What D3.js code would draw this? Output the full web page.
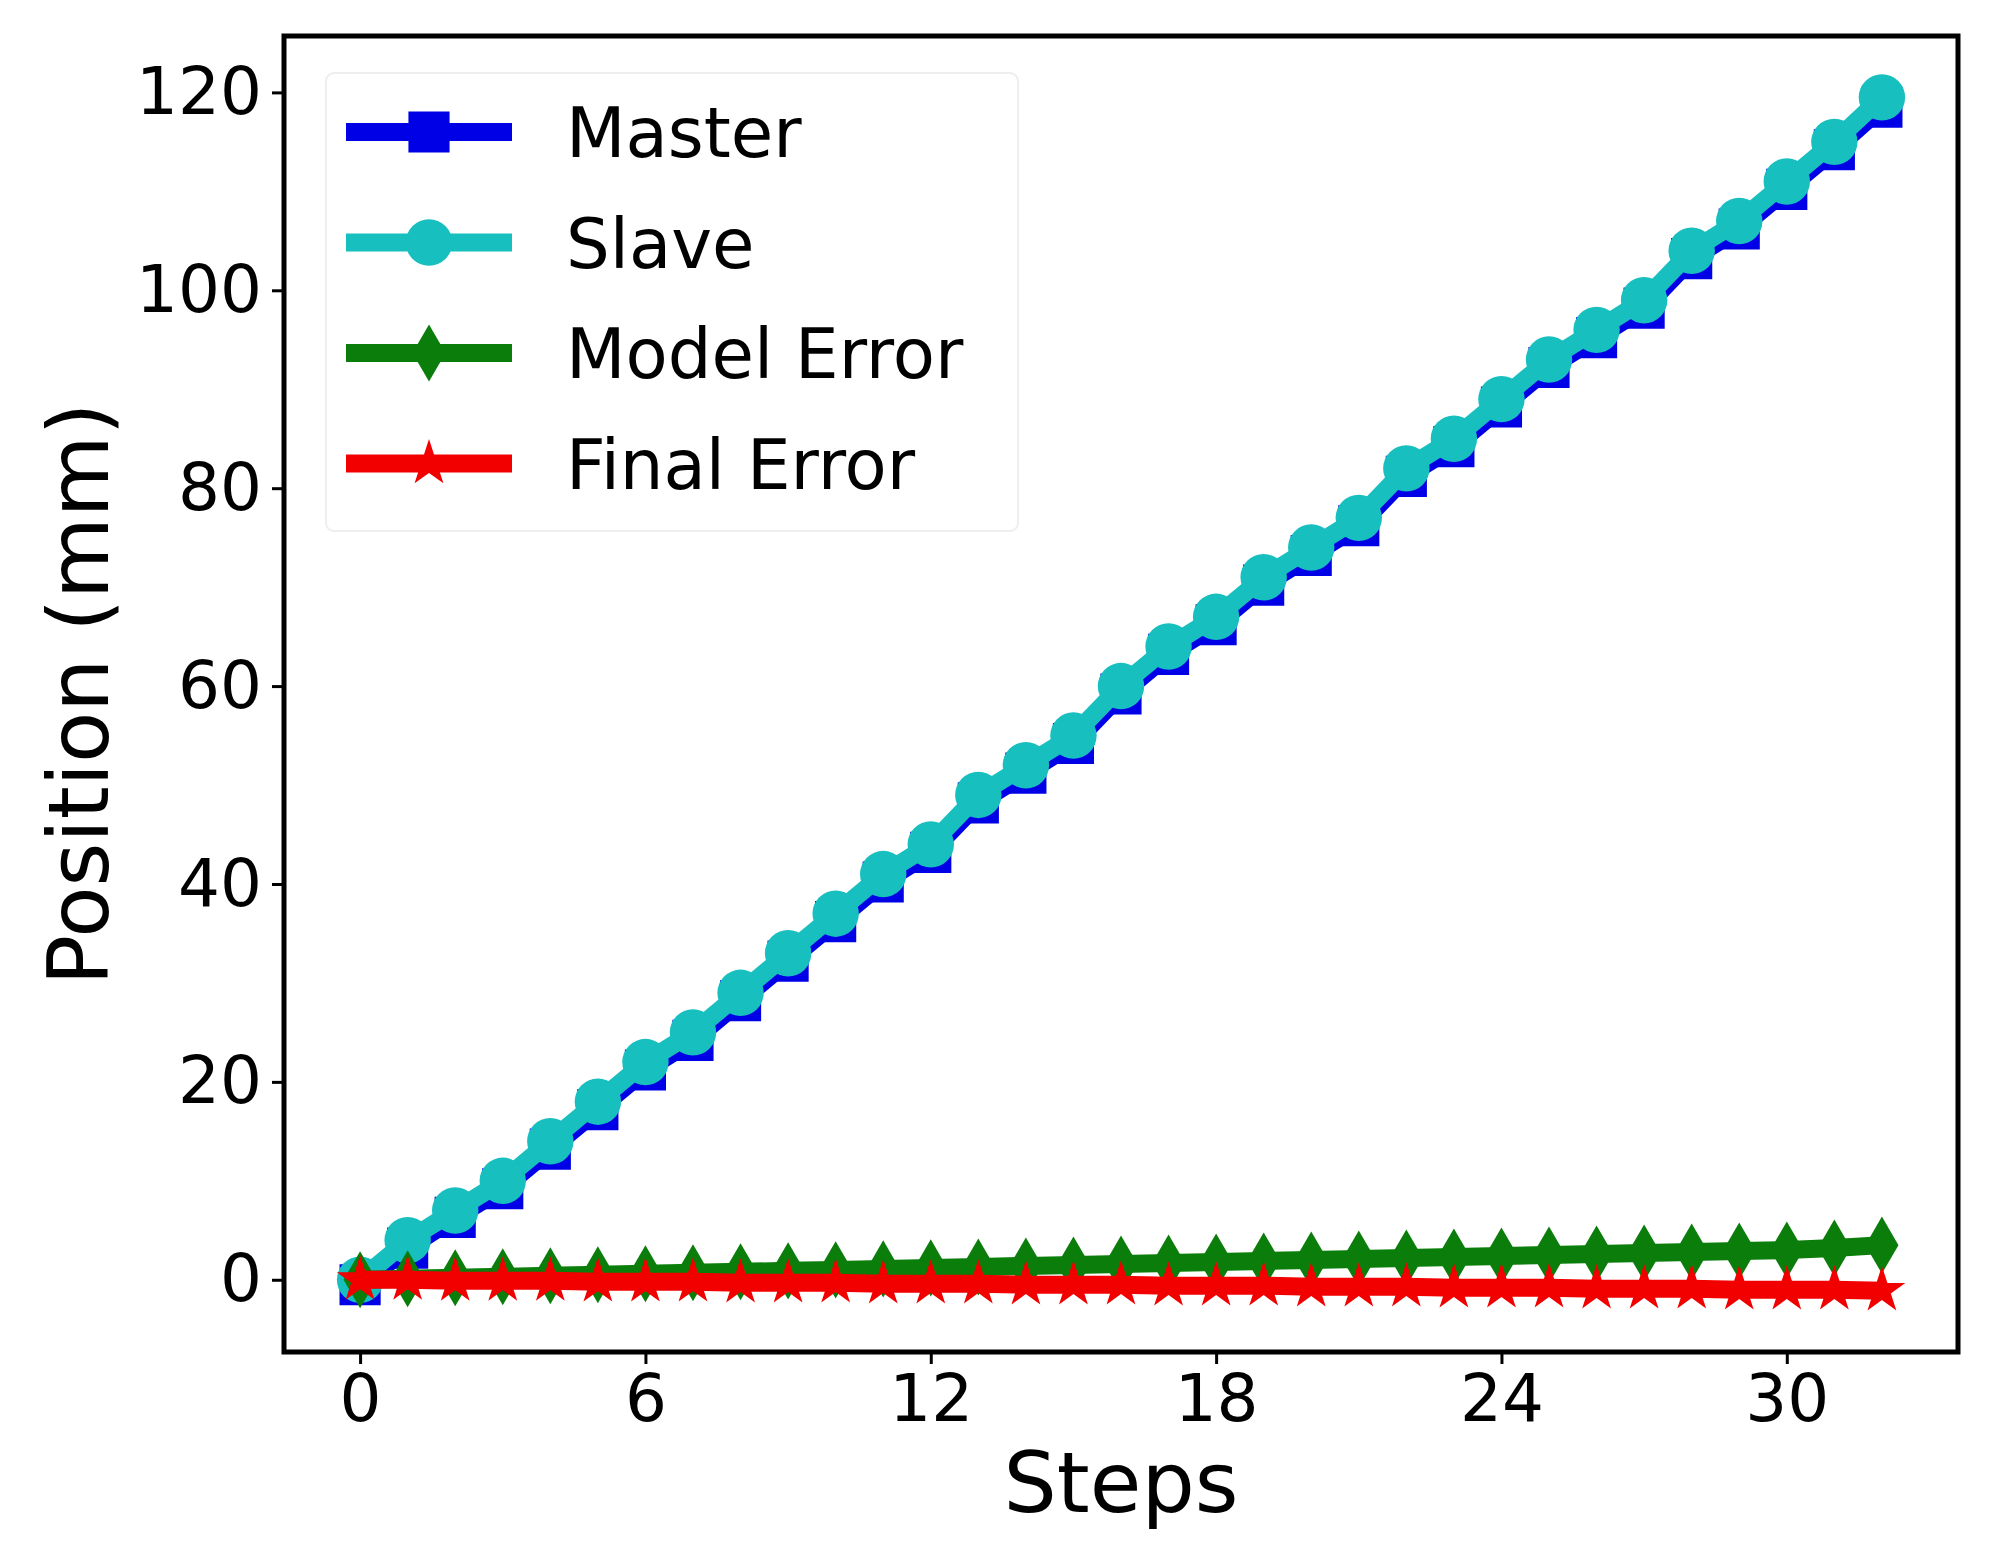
<!DOCTYPE html>
<html><head><meta charset="utf-8">
<script src="https://cdn.jsdelivr.net/npm/d3@7"></script>
<style>body{margin:0;background:#fff}svg{font-family:"DejaVu Sans",sans-serif}</style>
</head><body><svg id="canvas" width="2009" height="1550"></svg>
<script>
const steps = d3.range(0, 33)
const slave = [0,4,7,10,14,18,22,25,29,33,37,41,44,49,52,55,60,64,67,71,74,77,82,85,89,93,96,99,104,107,111,115,119.5]
const master = [-0.5,3.2,6.3,9.2,13.2,17.2,21.2,24.2,28.2,32.2,36.2,40.2,43.2,48.2,51.2,54.2,59.2,63.2,66.2,70.2,73.2,76.2,81.2,84.2,88.2,92.2,95.2,98.2,103.2,106.2,110.2,114.2,118.5]
const modelErr = [0,0.1,0.2,0.3,0.4,0.5,0.6,0.7,0.8,0.9,1.0,1.1,1.2,1.3,1.4,1.5,1.6,1.7,1.8,1.9,2.0,2.1,2.2,2.3,2.4,2.5,2.6,2.7,2.8,2.9,3.0,3.2,3.5]
const finalErr = [0,0,-0.1,-0.1,-0.1,-0.2,-0.2,-0.2,-0.3,-0.3,-0.3,-0.4,-0.4,-0.4,-0.5,-0.5,-0.5,-0.6,-0.6,-0.6,-0.7,-0.7,-0.7,-0.8,-0.8,-0.8,-0.9,-0.9,-0.9,-1.0,-1.0,-1.0,-1.1]
const xTicks = [0,6,12,18,24,30]
const yTicks = [0,20,40,60,80,100,120]

const series = [
  {name:'Master', values:master, color:'#0000e6', shape:d3.symbolSquare},
  {name:'Slave', values:slave, color:'#17bfbf', shape:d3.symbolCircle},
  {name:'Model Error', values:modelErr, color:'#0a7d0a', shape:'diamond'},
  {name:'Final Error', values:finalErr, color:'#f20000', shape:d3.symbolStar}
]

let canvas = d3.select('#canvas')
const L = 284, R = 1958, T = 36, B = 1352
let x = d3.scaleLinear().domain([-1.6, 33.6]).range([L, R])
let y = d3.scaleLinear().domain([-7.3, 125.7]).range([B, T])

let marker = (shape, size) => {
    if (shape === 'diamond') {
        let w = size * 0.36, h = size * 0.62
        return `M0,${-h}L${w},0L0,${h}L${-w},0Z`
    }
    let area = shape === d3.symbolStar ? size * size * 0.32 : size * size * 0.8
    return d3.symbol().type(shape).size(area)()
}

let plot = canvas.append('g')
series.forEach((s) => {
    plot.append('path')
        .datum(s.values)
        .attr('fill', 'none')
        .attr('stroke', s.color)
        .attr('stroke-width', 18)
        .attr('d', d3.line().x((d, i) => x(steps[i])).y((d) => y(d)))
    plot.selectAll(null)
        .data(s.values)
        .enter()
        .append('path')
        .attr('transform', (d, i) => 'translate(' + x(steps[i]) + ',' + y(d) + ')')
        .attr('d', marker(s.shape, 46))
        .attr('fill', s.color)
})

let xAxis = canvas.append('g').attr('transform', 'translate(0,' + B + ')')
    .call(d3.axisBottom(x).tickValues(xTicks).tickSize(12).tickPadding(10))
let yAxis = canvas.append('g').attr('transform', 'translate(' + L + ',0)')
    .call(d3.axisLeft(y).tickValues(yTicks).tickSize(12).tickPadding(10))
;[xAxis, yAxis].forEach((a) => {
    a.select('.domain').remove()
    a.selectAll('line').attr('stroke-width', 3)
    a.selectAll('text').attr('font-size', 66).attr('font-family', 'DejaVu Sans').attr('fill', '#000')
})

canvas.append('rect').attr('x', L).attr('y', T).attr('width', R - L).attr('height', B - T)
    .attr('fill', 'none').attr('stroke', '#000').attr('stroke-width', 5)

canvas.append('text').attr('x', (L + R) / 2).attr('y', 1512).attr('text-anchor', 'middle')
    .attr('font-size', 84).text('Steps')
canvas.append('text').attr('transform', 'translate(108,' + (T + B) / 2 + ') rotate(-90)')
    .attr('text-anchor', 'middle').attr('font-size', 84).text('Position (mm)')

// legend
let legend = canvas.append('g')
legend.append('rect').attr('x', 326).attr('y', 73).attr('width', 692).attr('height', 458).attr('rx', 8)
    .attr('fill', '#fff').attr('fill-opacity', 0.8).attr('stroke', '#eee').attr('stroke-width', 2)
series.forEach((s, i) => {
    let ly = 132 + i * 110.5
    legend.append('line').attr('x1', 346).attr('x2', 512).attr('y1', ly).attr('y2', ly)
        .attr('stroke', s.color).attr('stroke-width', 18)
    legend.append('path').attr('transform', 'translate(429,' + ly + ')')
        .attr('d', marker(s.shape, 46)).attr('fill', s.color)
    legend.append('text').attr('x', 566).attr('y', ly + 25).attr('font-size', 69).text(s.name)
})
</script></body></html>
